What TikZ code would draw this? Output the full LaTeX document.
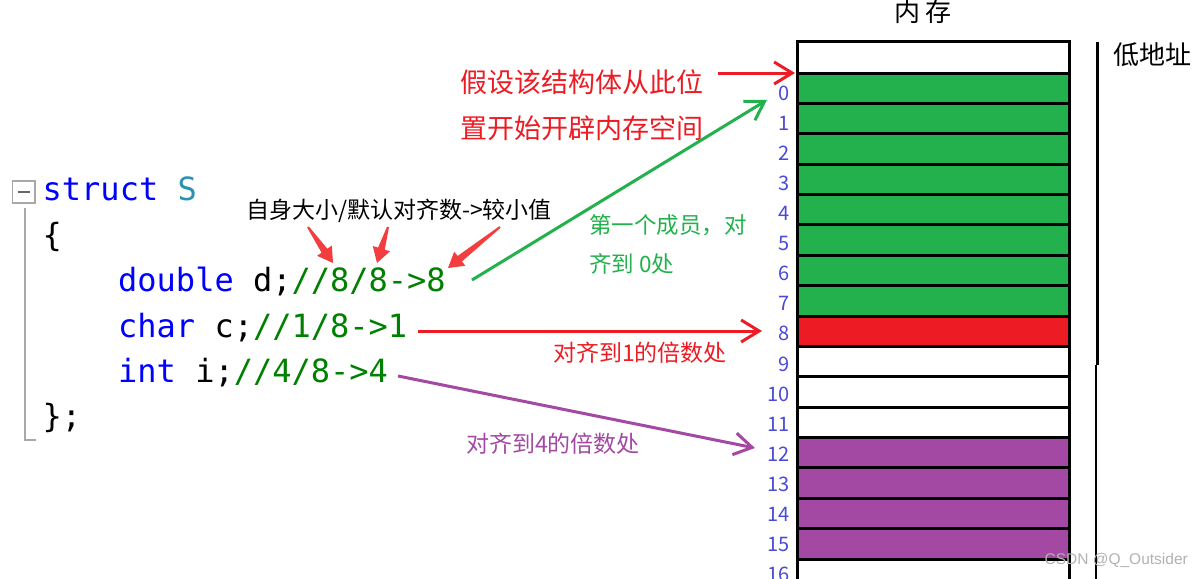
\documentclass[tikz,border=0pt]{standalone}
\usepackage{fontspec}
\usetikzlibrary{arrows.meta,calc}
\newfontfamily\cjk{Noto Sans CJK SC}
\newfontfamily\codefont{DejaVu Sans Mono}
\newfontfamily\wmfont{Liberation Sans}
\definecolor{kw}{HTML}{0000FF}
\definecolor{cm}{HTML}{008000}
\definecolor{tl}{HTML}{2B91AF}
\definecolor{memg}{HTML}{22B14C}
\definecolor{memr}{HTML}{ED1C24}
\definecolor{memp}{HTML}{A349A4}
\definecolor{numc}{HTML}{4A4AD8}
\definecolor{fatred}{HTML}{F23E3E}
\definecolor{foldgray}{HTML}{A8A8A8}
\newcommand\fatarrow[2]{%
  \coordinate (fb) at ($(#2)!15pt!(#1)$);
  \fill[fatred] ($(#1)!1pt!90:(#2)$) -- ($(fb)!3.5pt!90:(#2)$) -- ($(fb)!9pt!90:(#2)$) -- (#2)
    -- ($(fb)!9pt!-90:(#2)$) -- ($(fb)!3.5pt!-90:(#2)$) -- ($(#1)!1pt!-90:(#2)$) -- cycle;}
\begin{document}
\begin{tikzpicture}[x=1pt,y=-1pt,
  cell/.style={draw=black,line width=3pt,minimum width=272pt,minimum height=30.375pt,inner sep=0pt,outer sep=0pt},
  numlab/.style={anchor=east,inner sep=0pt,text=numc,font=\cjk\fontsize{20}{22}\selectfont},
  code/.style={anchor=base west,inner sep=0pt,font=\codefont\fontsize{32}{36}\selectfont},
  cjklab/.style={inner sep=0pt,font=\cjk\fontsize{23}{26}\selectfont},
  linearrow/.style={line width=3pt,-{Straight Barb[length=18pt,width=22pt]}},
]
\useasboundingbox (0,0) rectangle (1204,578);
\fill[white] (0,0) rectangle (1204,578);

% memory column
\node[cell,fill=white,minimum height=31pt] (ctop) at (933,57.5) {};
\foreach \k/\c in {0/memg,1/memg,2/memg,3/memg,4/memg,5/memg,6/memg,7/memg,8/memr,9/white,10/white,11/white,12/memp,13/memp,14/memp,15/memp,16/white}
  \node[cell,fill=\c] (c\k) at (933,{73+30.375*\k+15.1875}) {};
\foreach \k in {0,...,16}
  \node[numlab] (n\k) at (790,{93+30.1*\k}) {\k};

% right address line
\draw[line width=3pt] (1097,42) -- (1097,365);
\draw[line width=2.6pt] (1096,365) -- (1096,590);

% titles
\node[inner sep=0pt,font=\cjk\fontsize{26}{28}\selectfont] (title) at (923,12) {内 存};
\node[inner sep=0pt,font=\cjk\fontsize{26}{28}\selectfont] (low) at (1152,55) {低地址};

% code block
\draw[foldgray,line width=1.6pt] (12.5,181) rectangle (35,203);
\draw[black!60,line width=1.6pt] (17.5,192) -- (30,192);
\draw[foldgray,line width=2pt] (25,208) -- (25,440) -- (36,440);
\node[code] (sline) at (42.5,200.5) {\color{kw}struct \color{tl}S};
\node[code] (open) at (42.5,246) {\{};
\node[code] (dline) at (118,291.5) {\color{kw}double \color{black}d;\color{cm}//8/8->8};
\node[code] (cline) at (118,337) {\color{kw}char \color{black}c;\color{cm}//1/8->1};
\node[code] (iline) at (118,382) {\color{kw}int \color{black}i;\color{cm}//4/8->4};
\node[code] (close) at (42.5,427.5) {\};};

% annotation with fat arrows
\node[cjklab] (ann) at (399,211) {自身大小/默认对齐数->较小值};
\coordinate (t1) at (308,227); \coordinate (h1) at (333,263);
\coordinate (t2) at (388,227); \coordinate (h2) at (377,263);
\coordinate (t3) at (500,227); \coordinate (h3) at (448,268);
\fatarrow{t1}{h1}
\fatarrow{t2}{h2}
\fatarrow{t3}{h3}

% labels
\node[inner sep=0pt,text=memr,font=\cjk\fontsize{27}{30}\selectfont] (r1) at (582,82) {假设该结构体从此位};
\node[inner sep=0pt,text=memr,font=\cjk\fontsize{27}{30}\selectfont] (r2) at (582,128) {置开始开辟内存空间};
\node[cjklab,anchor=west,text=memg,font=\cjk\fontsize{22.5}{25}\selectfont] (g1) at (589,225) {第一个成员，对};
\node[cjklab,anchor=west,text=memg,font=\cjk\fontsize{22.5}{25}\selectfont] (g2) at (589,264) {齐到 0处};
\node[cjklab,anchor=west,text=memr] (r3) at (553,353) {对齐到1的倍数处};
\node[cjklab,anchor=west,text=memp] (p1) at (466,444) {对齐到4的倍数处};

% connectors
\coordinate (rs) at (718,73);
\draw[linearrow,memr] (rs) -- ($(ctop.south west)+(-2,0)$);
\coordinate (gs) at (472,280); \coordinate (ge) at (767,100);
\draw[linearrow,memg] (gs) -- (ge);
\coordinate (cs) at (418,331); \coordinate (ce) at (762,331);
\draw[linearrow,memr] (cs) -- (ce);
\coordinate (is) at (398,376); \coordinate (ie) at (755,448);
\draw[linearrow,memp] (is) -- (ie);

% watermark
\node[inner sep=0pt,anchor=east,text=black!30,font=\wmfont\fontsize{15.5}{18}\selectfont] (wm) at (1188,560) {CSDN @Q\_Outsider};
\end{tikzpicture}
\end{document}
